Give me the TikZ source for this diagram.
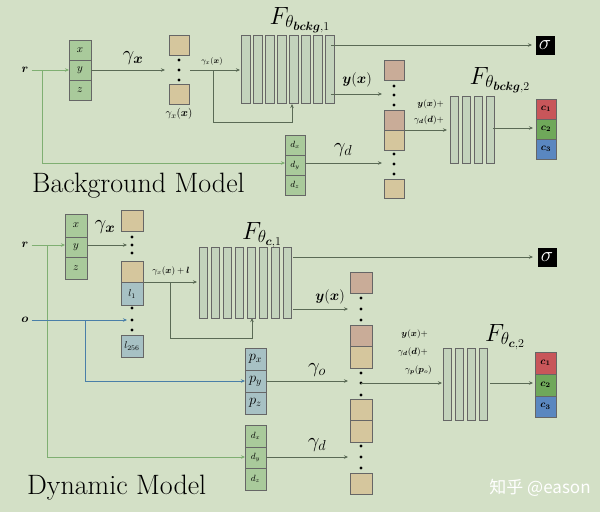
\documentclass[tikz,border=0pt]{standalone}
\usepackage{bm}
\usepackage{fontspec}
\newfontfamily\cjk{Noto Sans CJK SC}
\usetikzlibrary{arrows.meta}
\definecolor{bgc}{HTML}{D3E0C6}
\definecolor{grn}{HTML}{A9CA9B}
\definecolor{barc}{HTML}{C3D3BC}
\definecolor{tanc}{HTML}{D5C69D}
\definecolor{pinkc}{HTML}{C9AC98}
\definecolor{bluec}{HTML}{A7C1C4}
\definecolor{linec}{HTML}{5A6A55}
\definecolor{oline}{HTML}{4A7FA8}
\definecolor{gline}{HTML}{7FAF72}
\definecolor{cA}{HTML}{C8565A}
\definecolor{cB}{HTML}{6FA85A}
\definecolor{cC}{HTML}{5A87C0}
\newcommand\fs[1]{\fontsize{#1}{#1}\selectfont}
\begin{document}
\begin{tikzpicture}[x=1pt,y=-1pt,
 ar/.style={draw=linec,line width=0.6pt,-{Stealth[length=4pt,width=3.5pt]}},
 cell/.style={draw=black!60,line width=0.5pt},
 bar/.style={draw=black!60,fill=barc,line width=0.5pt},
 lab/.style={inner sep=0pt,font=\fs{11}},
 sm/.style={inner sep=0pt,font=\fs{8}},
 gam/.style={inner sep=0pt,font=\fs{21}},
 ttl/.style={inner sep=0pt,font=\fs{24}},
 big/.style={anchor=west,inner sep=0pt,font=\fs{28}},
 dot/.style={circle,fill=black,inner sep=0pt,minimum size=3.2pt}]
\fill[bgc] (0,0) rectangle (600,512);
\useasboundingbox (0,0) rectangle (600,512);
% ================= TOP
\node[lab,font=\fs{13}] (r1) at (25,70) {$\bm r$};
\foreach \t/\a/\b in {x/40/60,y/60/80,z/80/100}{\draw[cell,fill=grn] (69,\a) rectangle (91,\b);
 \node[lab] at (80,{(\a+\b)/2}) {$\t$};}
\coordinate (xyzL) at (69,70); \coordinate (xyzR) at (91,70);
\draw[ar,draw=gline] (r1.east) ++(3,0) -- (xyzL);
\coordinate (b1) at (42,70);
\draw[ar,draw=gline] (b1) |- (285,163);
\node[gam] at (133,58) {$\gamma_{\bm x}$};
\draw[ar] (xyzR) -- (165,70);
\draw[cell,fill=tanc] (169,35) rectangle (189,55);
\draw[cell,fill=tanc] (169,84) rectangle (189,104);
\foreach \y in {60,70,80} \node[dot] at (179,\y) {};
\node[lab] at (179,114) {$\gamma_x(\bm x)$};
\draw[ar] (190,70) -- (240,70);
\node[sm] at (212,61) {$\gamma_x(\bm x)$};
\draw[ar] (213,70) |- (292,122) -- (292,104);
\foreach \i in {0,...,7}{\draw[bar] ({241+\i*12},35) rectangle ({250+\i*12},103);}
\node[ttl] at (300,20) {$F_{\theta_{\bm{bckg},1}}$};
\draw[ar] (331,45) -- (532,45);
\node[fill=black,text=white,minimum size=19pt,inner sep=0pt,font=\fs{20}] (s1) at (545,45) {$\sigma$};
\draw[ar] (331,94) -- (382,94);
\node[lab,font=\fs{15}] at (357,80) {$\bm y(\bm x)$};
\draw[cell,fill=pinkc] (384,60) rectangle (404,80);
\foreach \y in {86,95,105,154,164,174} \node[dot] at (394,\y) {};
\draw[cell,fill=pinkc] (384,110) rectangle (404,130);
\draw[cell,fill=tanc] (384,130) rectangle (404,150);
\draw[cell,fill=tanc] (384,179) rectangle (404,198);
\foreach \t/\a/\b in {d_x/135/155,d_y/155/175,d_z/175/195}{\draw[cell,fill=grn] (285,\a) rectangle (305,\b);
 \node[lab,font=\fs{9}] at (295,{(\a+\b)/2}) {$\t$};}
\draw[ar] (305,163) -- (382,163);
\node[gam] at (343,150) {$\gamma_d$};
\draw[ar] (405,130) -- (447,130);
\node[sm,anchor=east,font=\fs{9}] at (444,104) {$\bm y(\bm x)+$};
\node[sm,anchor=east,font=\fs{9}] at (444,120) {$\gamma_{\bm d}(\bm d)+$};
\foreach \i in {0,...,3}{\draw[bar] ({450+\i*12},96) rectangle ({458+\i*12},163);}
\node[ttl] at (500,80) {$F_{\theta_{\bm{bckg},2}}$};
\draw[ar] (493,128) -- (533,128);
\foreach \t/\a/\b/\cc in {c_1/99/119/cA,c_2/119/139/cB,c_3/139/159/cC}{
 \draw[cell,fill=\cc] (536,\a) rectangle (556,\b); \node[lab,font=\fs{10}] at (546,{(\a+\b)/2}) {$\bm{\t}$};}
\node[big] at (32,186) {Background Model};
% ================= BOTTOM
\node[lab,font=\fs{13}] (r2) at (25,245) {$\bm r$};
\foreach \t/\a/\b in {x/214/237,y/237/257,z/257/279}{\draw[cell,fill=grn] (65,\a) rectangle (87,\b);
 \node[lab] at (76,{(\a+\b)/2}) {$\t$};}
\draw[ar,draw=gline] (r2.east) ++(3,0) -- (65,245);
\draw[ar,draw=gline] (47,245) |- (245,457);
\node[gam] at (105,227) {$\gamma_{\bm x}$};
\draw[ar] (87,245) -- (127,245);
\draw[cell,fill=tanc] (121,210) rectangle (143,231);
\draw[cell,fill=tanc] (121,261) rectangle (143,282);
\draw[cell,fill=bluec] (121,282) rectangle (143,305);
\node[lab,font=\fs{10}] at (132,294) {$l_1$};
\draw[cell,fill=bluec] (121,335) rectangle (143,357);
\node[lab,font=\fs{10}] at (132,346) {$l_{256}$};
\foreach \y in {237,245,253,308,320,330} \node[dot] at (132,\y) {};
\node[lab,font=\fs{13}] (o) at (25,320) {$\bm o$};
\draw[oline,line width=0.6pt,-{Stealth[length=4pt,width=3.5pt]}] (o.east) ++(3,0) -- (127,320);
\draw[oline,line width=0.6pt,-{Stealth[length=4pt,width=3.5pt]}] (85,320) |- (245,381);
\draw[ar] (144,282) -- (197,282);
\node[sm,font=\fs{9}] at (171,271) {$\gamma_x(\bm x)+\bm l$};
\draw[ar] (170,282) |- (252,338) -- (252,318);
\foreach \i in {0,...,7}{\draw[bar] ({199+\i*12},247) rectangle ({207+\i*12},318);}
\node[ttl] at (262,235) {$F_{\theta_{\bm c,1}}$};
\draw[ar] (293,257) -- (533,257);
\node[fill=black,text=white,minimum size=19pt,inner sep=0pt,font=\fs{20}] (s2) at (547,257) {$\sigma$};
\draw[ar] (293,309) -- (348,309);
\node[lab,font=\fs{15}] at (330,297) {$\bm y(\bm x)$};
\draw[cell,fill=pinkc] (350,272) rectangle (372,293);
\draw[cell,fill=pinkc] (350,325) rectangle (372,346);
\draw[cell,fill=tanc] (350,346) rectangle (372,368);
\draw[cell,fill=tanc] (350,399) rectangle (372,420);
\draw[cell,fill=tanc] (350,420) rectangle (372,442);
\draw[cell,fill=tanc] (350,473) rectangle (372,494);
\foreach \y in {298,309,320,373,383,395,446,457,468} \node[dot] at (361,\y) {};
\foreach \t/\a/\b in {p_x/348/370,p_y/370/392,p_z/392/414}{\draw[cell,fill=bluec] (245,\a) rectangle (266,\b);
 \node[lab,font=\fs{14}] at (255.5,{(\a+\b)/2}) {$\t$};}
\foreach \t/\a/\b in {d_x/425/447,d_y/447/468,d_z/468/490}{\draw[cell,fill=grn] (245,\a) rectangle (266,\b);
 \node[lab,font=\fs{9}] at (255.5,{(\a+\b)/2}) {$\t$};}
\draw[ar] (266,381) -- (348,381);
\node[gam] at (317,370) {$\gamma_o$};
\draw[ar] (266,457) -- (348,457);
\node[gam] at (317,445) {$\gamma_d$};
\draw[ar] (361,383) -- (442,383);
\node[sm,anchor=east,font=\fs{9}] at (428,334) {$\bm y(\bm x)+$};
\node[sm,anchor=east,font=\fs{9}] at (428,352) {$\gamma_{\bm d}(\bm d)+$};
\node[sm,anchor=east,font=\fs{9}] at (432,370) {$\gamma_{\bm p}(\bm p_o)$};
\foreach \i in {0,...,3}{\draw[bar] ({443+\i*12},348) rectangle ({451+\i*12},420);}
\node[ttl] at (505,337) {$F_{\theta_{\bm c,2}}$};
\draw[ar] (490,383) -- (533,383);
\foreach \t/\a/\b/\cc in {c_1/352/374/cA,c_2/374/396/cB,c_3/396/417/cC}{
 \draw[cell,fill=\cc] (535,\a) rectangle (556,\b); \node[lab,font=\fs{10}] at (545.5,{(\a+\b)/2}) {$\bm{\t}$};}
\node[big] at (27,488) {Dynamic Model};
\node[text=white,font=\cjk\fs{17}] at (540,488) {知乎 @eason};
\end{tikzpicture}
\end{document}
